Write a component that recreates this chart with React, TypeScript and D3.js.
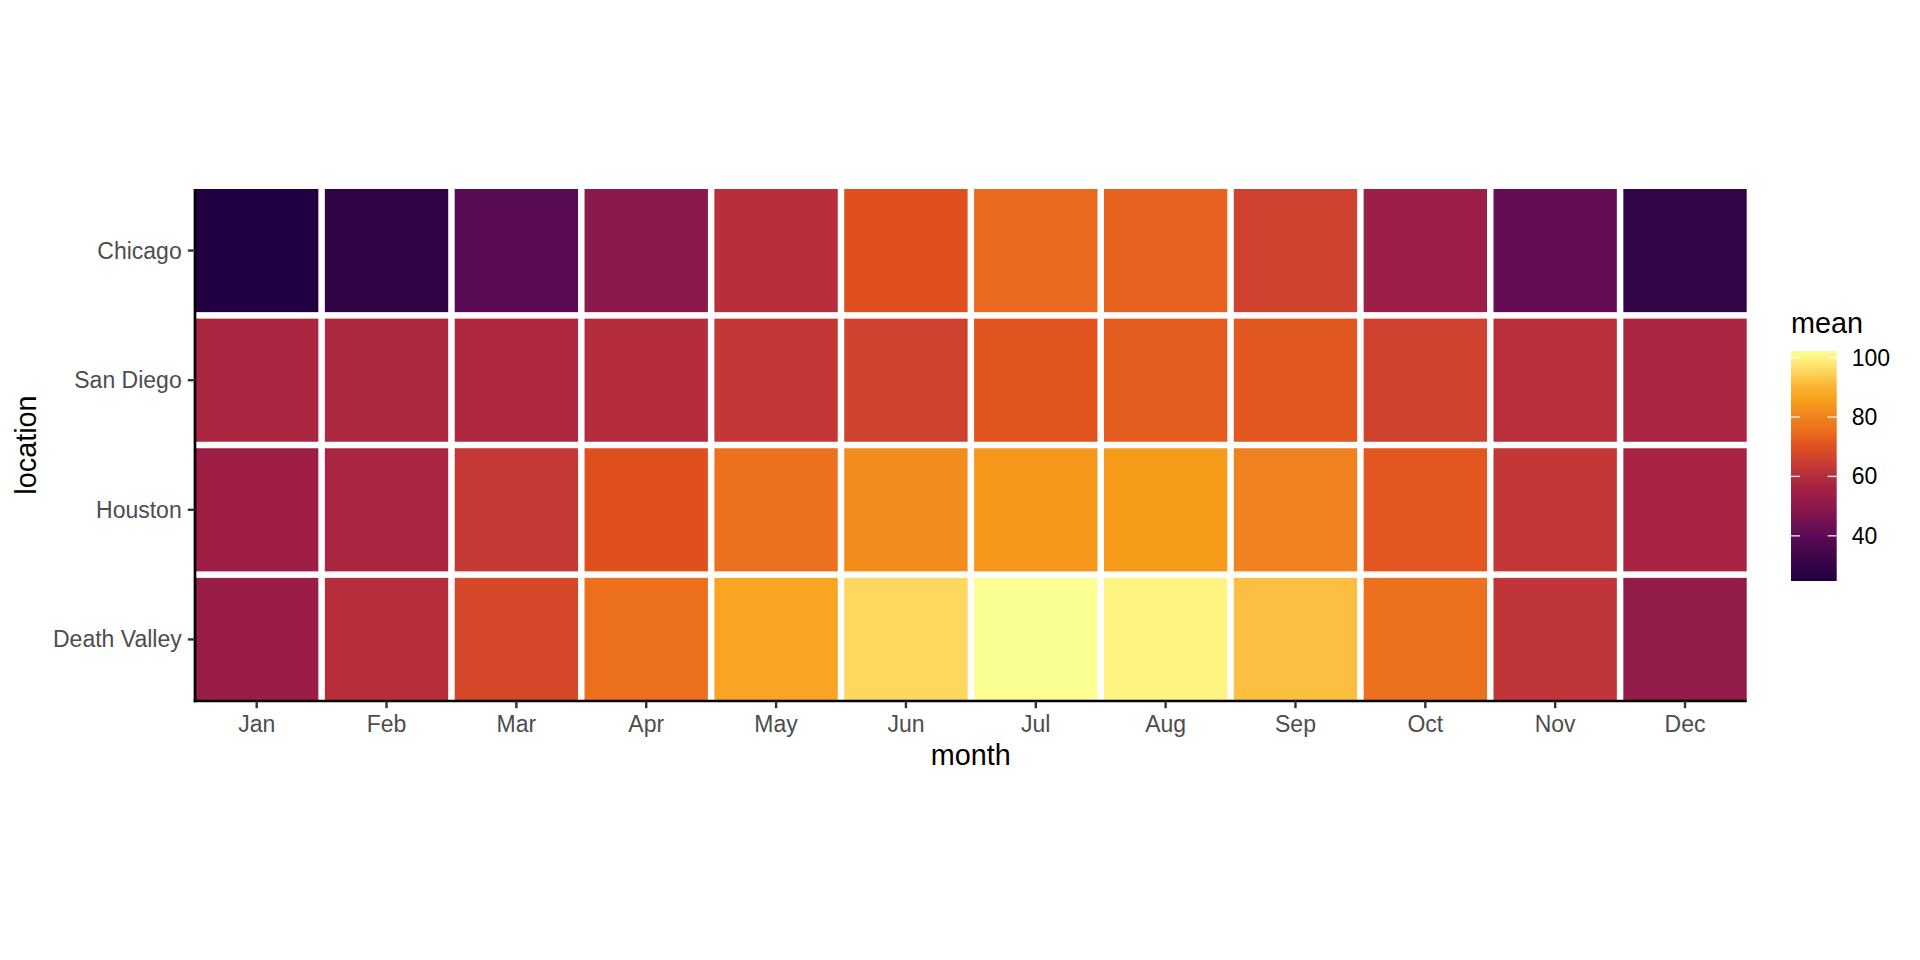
import React from "react";
import * as d3 from "d3";

const months = ["Jan", "Feb", "Mar", "Apr", "May", "Jun", "Jul", "Aug", "Sep", "Oct", "Nov", "Dec"];
const locations = ["Chicago", "San Diego", "Houston", "Death Valley"];

const chicago = [24.8, 29.0, 39.5, 49.6, 60.8, 70.0, 74.5, 73.0, 65.8, 54.0, 41.8, 29.6];
const sanDiego = [57.6, 57.9, 58.6, 60.3, 63.2, 66.0, 70.6, 72.1, 71.1, 66.0, 61.0, 57.2];
const houston = [54.4, 57.6, 63.4, 70.2, 76.2, 82.0, 84.0, 84.6, 80.0, 71.2, 63.2, 56.8];
const deathValley = [53.0, 60.5, 67.6, 75.6, 87.0, 95.4, 102.2, 100.0, 92.0, 76.2, 62.6, 51.4];

const legendTicks = [40, 60, 80, 100];

// colour ramp (value stops and colours)
const rampValues = [24.8, 30, 40, 50, 55, 60, 65, 70, 75, 80, 85, 90, 95, 100, 102.2];
const rampColors = [
  "#200040", "#330546", "#5c0b56", "#8d1a4a", "#a11f45", "#b42c3d", "#cb3f32",
  "#e04f1f", "#eb6c1e", "#ef821e", "#f79c1a", "#fbb12e", "#fed45c", "#fff482", "#fbff94",
];

const seriesByLocation: Record<string, number[]> = {
  Chicago: chicago,
  "San Diego": sanDiego,
  Houston: houston,
  "Death Valley": deathValley,
};

const FONT = "'Liberation Sans', Arial, Helvetica, sans-serif";

export default function App() {
  const W = 1920;
  const H = 960;
  const x0 = 195, x1 = 1746.7, y0 = 189, y1 = 701;

  const x = d3.scaleBand<string>().domain(months).range([x0, x1]).paddingInner(0.05).paddingOuter(0);
  const y = d3.scaleBand<string>().domain(locations).range([y0, y1]).paddingInner(0.05).paddingOuter(0);

  const cells = locations.flatMap((loc) =>
    seriesByLocation[loc].map((v, i) => ({ loc, month: months[i], value: v }))
  );
  const all = cells.map((c) => c.value);
  const vmin = d3.min(all) as number;
  const vmax = d3.max(all) as number;

  const color = d3
    .scaleLinear<string>()
    .domain(rampValues)
    .range(rampColors)
    .interpolate(d3.interpolateLab)
    .clamp(true);

  // legend
  const lx0 = 1791, lx1 = 1836.7;
  const ly = d3.scaleLinear().domain([vmin, vmax]).range([581, 351]);
  const gradStops = d3.range(0, 61).map((i) => {
    const t = i / 60;
    const v = vmin + t * (vmax - vmin);
    return { offset: `${t * 100}%`, color: color(v) };
  });

  return (
    <svg
      width={W}
      height={H}
      style={{ position: "absolute", left: 0, top: 0, background: "#fff" }}
      fontFamily={FONT}
    >
      <defs>
        <linearGradient id="legGrad" x1="0" y1="1" x2="0" y2="0">
          {gradStops.map((s, i) => (
            <stop key={i} offset={s.offset} stopColor={s.color} />
          ))}
        </linearGradient>
      </defs>
      <rect x={0} y={0} width={W} height={H} fill="#fff" />

      {cells.map((c, i) => (
        <rect
          key={i}
          x={x(c.month)}
          y={y(c.loc)}
          width={x.bandwidth()}
          height={y.bandwidth()}
          fill={color(c.value)}
        />
      ))}

      {/* axis lines */}
      <line x1={x0} x2={x0} y1={y0} y2={y1 + 1.35} stroke="#000" strokeWidth={2.7} />
      <line x1={x0 - 1.35} x2={x1} y1={y1} y2={y1} stroke="#000" strokeWidth={2.7} />

      {/* y ticks & labels */}
      {locations.map((loc) => {
        const cy = (y(loc) as number) + y.bandwidth() / 2;
        return (
          <g key={loc}>
            <line x1={x0 - 7.2} x2={x0} y1={cy} y2={cy} stroke="#333" strokeWidth={2.4} />
            <text x={181.7} y={cy} dy="0.35em" textAnchor="end" fontSize={23} fill="#4d4d4d">
              {loc}
            </text>
          </g>
        );
      })}

      {/* x ticks & labels */}
      {months.map((m) => {
        const cx = (x(m) as number) + x.bandwidth() / 2;
        return (
          <g key={m}>
            <line x1={cx} x2={cx} y1={y1} y2={y1 + 7.2} stroke="#333" strokeWidth={2.4} />
            <text x={cx} y={732} textAnchor="middle" fontSize={23} fill="#4d4d4d">
              {m}
            </text>
          </g>
        );
      })}

      {/* axis titles */}
      <text x={(x0 + x1) / 2} y={765} textAnchor="middle" fontSize={28.8} fill="#000">
        month
      </text>
      <text
        transform={`translate(36, ${(y0 + y1) / 2}) rotate(-90)`}
        textAnchor="middle"
        fontSize={28.8}
        fill="#000"
      >
        location
      </text>

      {/* legend */}
      <text x={lx0} y={333.3} fontSize={28.8} fill="#000">
        mean
      </text>
      <rect x={lx0} y={ly(vmax)} width={lx1 - lx0} height={ly(vmin) - ly(vmax)} fill="url(#legGrad)" />
      {legendTicks.map((t) => (
        <g key={t}>
          <line x1={lx0} x2={lx0 + 9} y1={ly(t)} y2={ly(t)} stroke="#fff" strokeOpacity={0.85} strokeWidth={1.4} />
          <line x1={lx1 - 9} x2={lx1} y1={ly(t)} y2={ly(t)} stroke="#fff" strokeOpacity={0.85} strokeWidth={1.4} />
          <text x={1851.7} y={ly(t)} dy="0.35em" fontSize={23} fill="#000">
            {t}
          </text>
        </g>
      ))}
    </svg>
  );
}
